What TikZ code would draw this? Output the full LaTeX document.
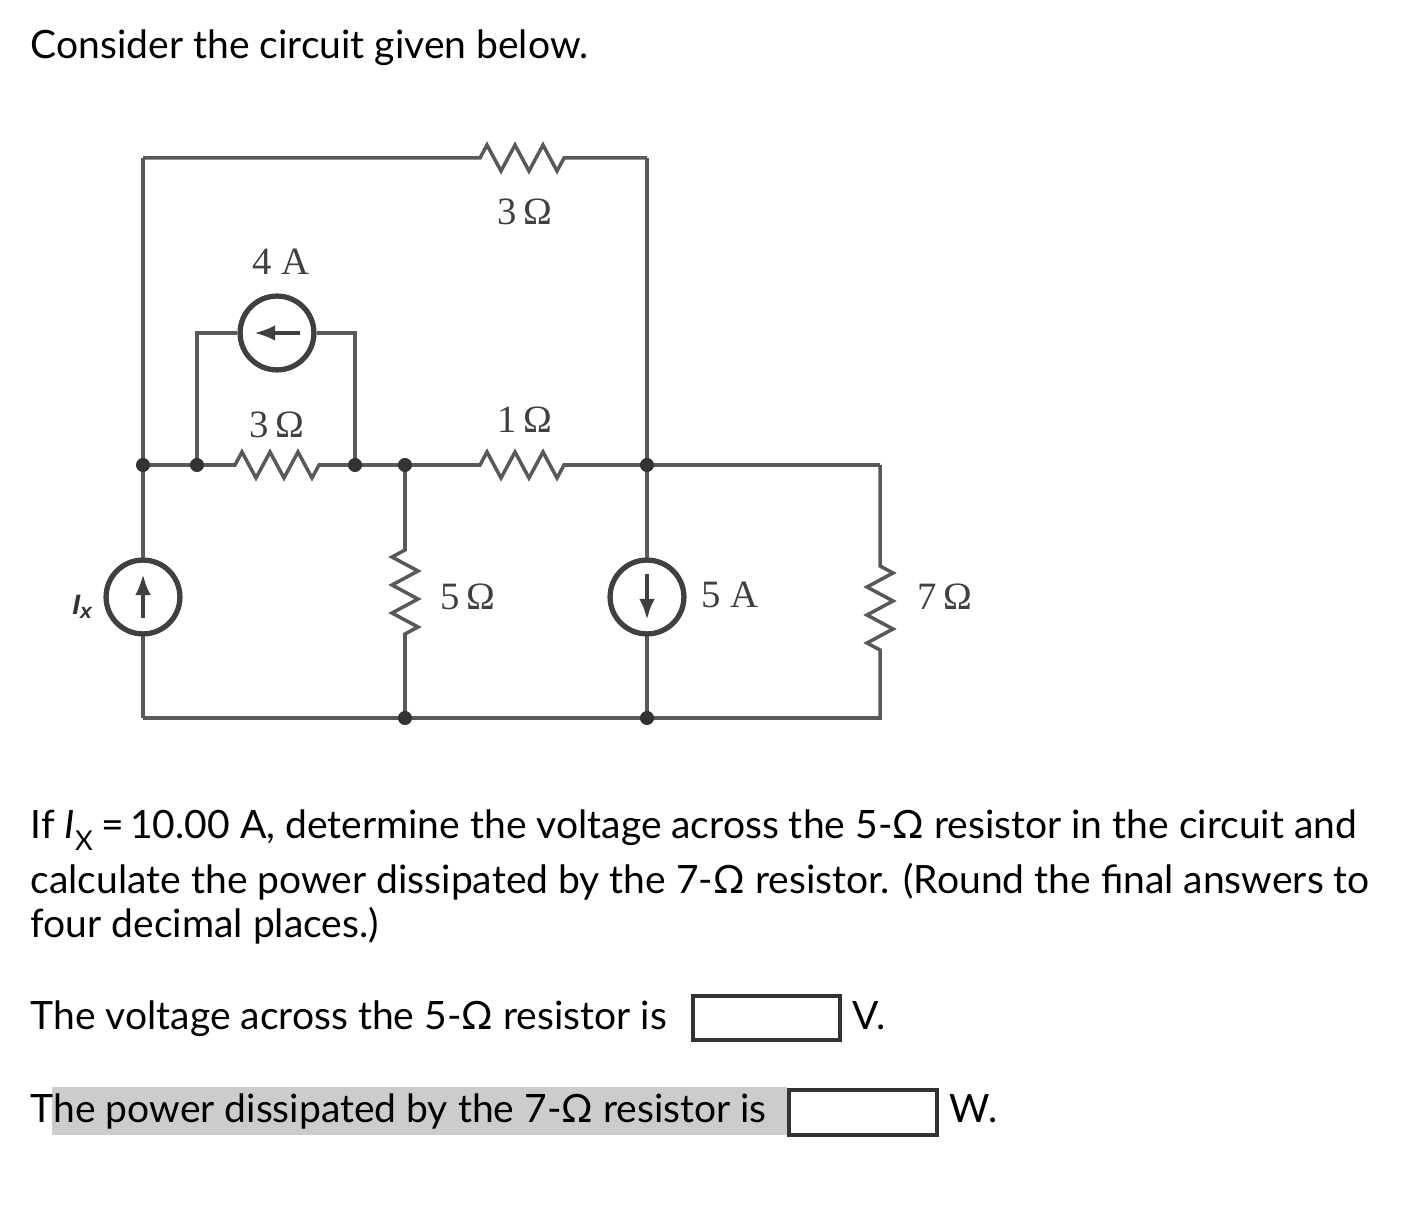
\documentclass[tikz,border=0pt]{standalone}
\usepackage{fontspec}
\setmainfont{Lato}
\newfontfamily\circfont{Liberation Serif}
\newfontfamily\ixfont{Liberation Sans}
\usetikzlibrary{arrows.meta}
\begin{document}
\begin{tikzpicture}[x=0.01cm,y=-0.01cm,
  wire/.style={draw=black!65,line width=1pt},
  dot/.style={circle,fill=black!80,inner sep=0pt,minimum size=4pt},
  src/.style={circle,draw=black!75,line width=1.5pt,minimum size=21pt,inner sep=0pt},
  clab/.style={font=\circfont\fontsize{11}{13}\selectfont,text=black!75},
  txt/.style={font=\fontsize{11.1}{12}\selectfont,anchor=base west,inner sep=0pt}]
\useasboundingbox (0,0) rectangle (1415,1222);
\coordinate (tl) at (143,158); \coordinate (tr) at (647,158);
\coordinate (ml) at (143,465); \coordinate (mr) at (880,465);
\coordinate (bl) at (143,718); \coordinate (br) at (880,718);
\draw[wire] (tl) -- (480,158) -- ++(7,-13) -- ++(14,26) -- ++(14,-26) -- ++(14,26) -- ++(14,-26) -- ++(14,26) -- ++(7,-13) -- (tr);
\draw[wire] (tr) -- (647,560);
\draw[wire] (647,634) -- (647,718);
\draw[wire] (tl) -- (143,560);
\draw[wire] (143,634) -- (bl);
\draw[wire] (bl) -- (br) -- (880,650) -- ++(-13,-7) -- ++(26,-14) -- ++(-26,-14) -- ++(26,-14) -- ++(-26,-14) -- ++(26,-14) -- ++(-13,-7) -- (880,550) -- (mr);
\draw[wire] (ml) -- (235,465) -- ++(7,-13) -- ++(14,26) -- ++(14,-26) -- ++(14,26) -- ++(14,-26) -- ++(14,26) -- ++(7,-13) -- (480,465) -- ++(7,-13) -- ++(14,26) -- ++(14,-26) -- ++(14,26) -- ++(14,-26) -- ++(14,26) -- ++(7,-13) -- (mr);
\draw[wire] (405,465) -- (405,550) -- ++(-13,7) -- ++(26,14) -- ++(-26,14) -- ++(26,14) -- ++(-26,14) -- ++(26,14) -- ++(-13,7) -- (405,718);
\draw[wire] (197,465) -- (197,333) -- (237,333);
\draw[wire] (317,333) -- (355,333) -- (355,465);
\node[src] (s4) at (277,333) {};
\draw[black!75,line width=1.3pt,-{Latex[length=6pt]}] (300,333) -- (254,333);
\node[src] (sx) at (143,597) {};
\draw[black!75,line width=1.3pt,-{Latex[length=6pt]}] (143,618) -- (143,574);
\node[src] (s5) at (647,597) {};
\draw[black!75,line width=1.3pt,-{Latex[length=6pt]}] (647,574) -- (647,620);
\foreach \p in {(143,465),(197,465),(355,465),(405,465),(647,465),(405,718),(647,718)} \node[dot] at \p {};
\node[clab] at (525,212) {3\,Ω};
\node[clab] at (281,262) {4 A};
\node[clab] at (277,425) {3\,Ω};
\node[clab] at (525,420) {1\,Ω};
\node[clab] at (468,597) {5\,Ω};
\node[clab] at (730,595) {5 A};
\node[clab] at (945,597) {7\,Ω};
\node[font=\ixfont\fontsize{8}{10}\selectfont\bfseries\itshape,text=black!80] at (83,607) {I\textsubscript{x}};
\node[txt] at (30,59) {Consider the circuit given below.};
\node[txt] at (30,838) {If \textit{I}\raisebox{-0.3ex}{\textsubscript{X}}\,=\,10.00 A, determine the voltage across the 5-Ω resistor in the circuit and};
\node[txt] at (30,893) {calculate the power dissipated by the 7-Ω resistor. (Round the final answers to};
\node[txt] at (30,937) {four decimal places.)};
\node[txt] at (30,1029) {The voltage across the 5-Ω resistor is};
\draw[black!80,line width=1pt] (693,996) rectangle (840,1040);
\node[txt] at (852,1029) {V.};
\fill[black!20] (52,1087) rectangle (787,1135);
\node[txt] at (30,1122) {The power dissipated by the 7-Ω resistor is};
\draw[black!80,line width=1pt] (789,1090) rectangle (937,1135);
\node[txt] at (949,1122) {W.};
\end{tikzpicture}
\end{document}
